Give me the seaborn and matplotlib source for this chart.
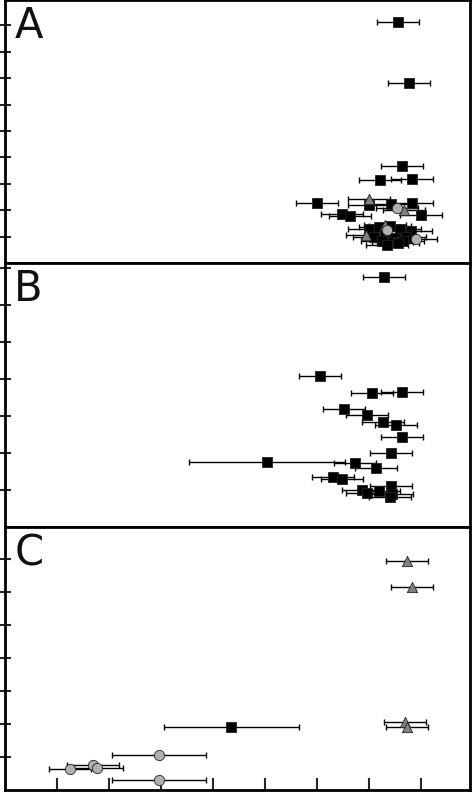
import matplotlib
matplotlib.use("Agg")
import matplotlib.pyplot as plt
import seaborn as sns
import pandas as pd

sns.set_style("white")
plt.rcParams['font.family'] = ['DejaVu Sans']

# Panel A
a_x = [7.56, 7.77, 7.63, 7.83, 7.21, 6.0, 7.42, 7.83, 7.0, 6.48, 6.63, 8.0,
       7.0, 7.2, 7.4, 7.6, 7.8, 7.1, 7.3, 7.5, 7.7, 7.25, 7.45, 7.65, 7.35, 7.55]
a_y = [9.13, 6.82, 3.67, 3.18, 3.14, 2.27, 2.23, 2.27, 2.2, 1.86, 1.78, 1.82,
       1.3, 1.35, 1.4, 1.3, 1.2, 1.0, 1.05, 0.95, 1.0, 0.85, 0.8, 0.85, 0.7, 0.75]
a_err = [0.4, 0.4, 0.4, 0.4, 0.4, 0.4, 0.4, 0.4, 0.4, 0.4, 0.4, 0.4,
         0.4, 0.4, 0.4, 0.4, 0.4, 0.4, 0.4, 0.4, 0.4, 0.4, 0.4, 0.4, 0.4, 0.4]
a_tri_x = [7.0, 7.67, 7.3, 6.95]
a_tri_y = [2.42, 2.0, 1.45, 1.05]
a_cir_x = [7.54, 7.9, 7.35]
a_cir_y = [2.1, 0.9, 1.25]

# Panel B
b_x = [7.29, 6.06, 7.06, 7.63, 6.52, 6.96, 7.27, 7.52, 7.63, 7.42, 5.04, 6.73,
       7.13, 6.31, 6.48, 6.87, 6.96, 7.42, 7.44, 7.2, 7.4]
b_y = [6.76, 4.08, 3.62, 3.65, 3.19, 3.03, 2.84, 2.76, 2.43, 2.0, 1.76, 1.73,
       1.59, 1.35, 1.30, 1.0, 0.92, 1.11, 0.89, 0.97, 0.81]
b_err = [0.4, 0.4, 0.4, 0.4, 0.4, 0.4, 0.4, 0.4, 0.4, 0.4, 1.5, 0.4,
         0.4, 0.4, 0.4, 0.4, 0.4, 0.4, 0.4, 0.4, 0.4]

# Panel C
c_tri_x = [7.73, 7.83, 7.69, 7.73]
c_tri_y = [6.94, 6.15, 2.06, 1.91]
c_tri_err = [0.4, 0.4, 0.4, 0.4]
c_sq_x = [4.35]
c_sq_y = [1.91]
c_sq_err = [1.3]
c_cir_x = [2.96, 1.69, 1.77, 1.25, 2.96]
c_cir_y = [1.06, 0.76, 0.67, 0.64, 0.30]
c_cir_err = [0.9, 0.5, 0.5, 0.4, 0.9]

fig = plt.figure(figsize=(4.74, 7.95), dpi=100)
L, R = 5/474, 470/474
axA = fig.add_axes([L, 1-263/795, R-L, 263/795])
axB = fig.add_axes([L, 1-527/795, R-L, 264/795])
axC = fig.add_axes([L, 1-790/795, R-L, 263/795])

def draw(ax, x, y, err, marker, color, size):
    ax.errorbar(x, y, xerr=err, fmt='none', ecolor='black', elinewidth=1, capsize=2.5, capthick=1, zorder=2)
    sns.scatterplot(x=x, y=y, marker=marker, color=color, s=size, edgecolor='#222222', linewidth=0.6, ax=ax, zorder=3, legend=False)

draw(axA, a_x, a_y, a_err, 's', 'black', 45)
draw(axA, a_tri_x, a_tri_y, [0.4]*len(a_tri_x), '^', '#808080', 55)
draw(axA, a_cir_x, a_cir_y, [0.4]*len(a_cir_x), 'o', '#b0b0b0', 55)
draw(axB, b_x, b_y, b_err, 's', 'black', 45)
draw(axC, c_tri_x, c_tri_y, c_tri_err, '^', '#808080', 55)
draw(axC, c_sq_x, c_sq_y, c_sq_err, 's', 'black', 45)
draw(axC, c_cir_x, c_cir_y, c_cir_err, 'o', '#b0b0b0', 55)

for ax, ylim, letter, nt in [(axA, 9.96, 'A', 9), (axB, 7.13, 'B', 7), (axC, 7.97, 'C', 7)]:
    ax.set_xlim(0, 8.94)
    ax.set_ylim(0, ylim)
    ax.set_yticks(range(1, nt + 1))
    ax.set_xticks(range(1, 9))
    ax.set_yticklabels([])
    ax.set_xticklabels([])
    ax.tick_params(axis='y', direction='inout', length=9, width=1.5, left=True)
    ax.tick_params(axis='x', direction='in', length=9, width=1.5, bottom=(ax is axC))
    for s in ax.spines.values():
        s.set_linewidth(2)
        s.set_color('black')
    ax.text(0.02, 0.98, letter, transform=ax.transAxes, fontsize=30, va='top', ha='left', color='#111111')

fig.savefig("out.png", dpi=100)
